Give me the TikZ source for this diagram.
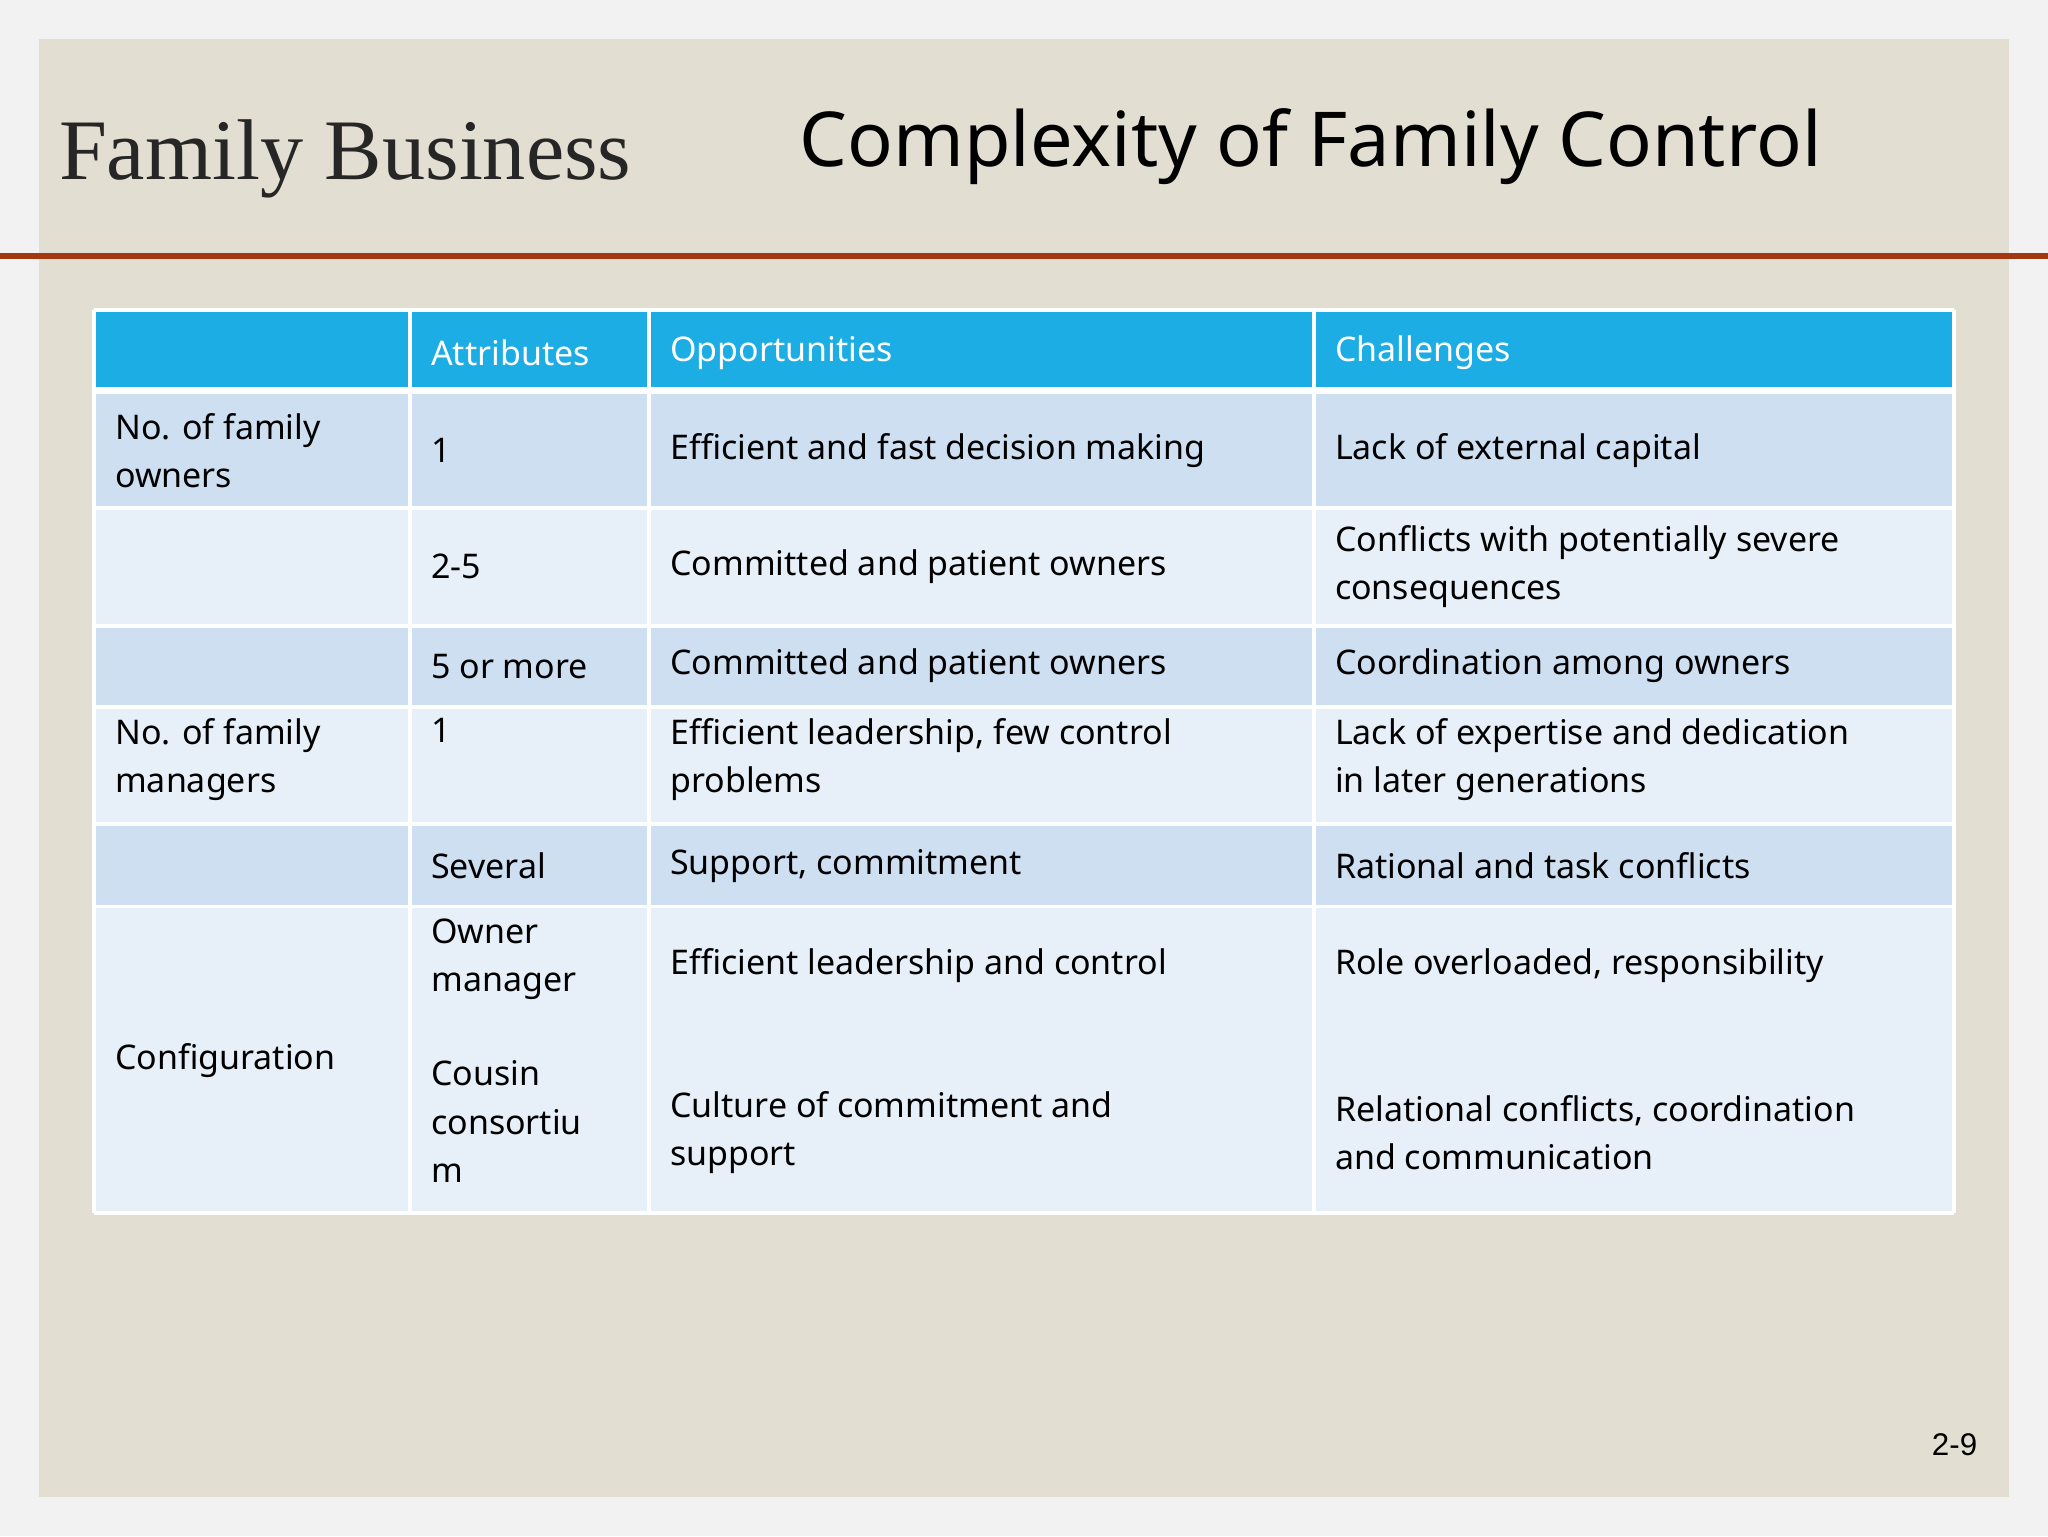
\documentclass[tikz,border=0pt]{standalone}
\usepackage{fontspec}
\setmainfont{Noto Sans}
\newfontfamily\titleserif{Liberation Serif}
\newfontfamily\arialf{Liberation Sans}
\definecolor{bgp}{HTML}{F2F2F2}
\definecolor{slide}{HTML}{E2DFD2}
\definecolor{rule}{HTML}{A3370F}
\definecolor{hdr}{HTML}{1CADE4}
\definecolor{rowd}{HTML}{CDDFF1}
\definecolor{rowl}{HTML}{E7EFF8}
\begin{document}
\begin{tikzpicture}[x=1pt,y=-1pt,
  cell/.style={anchor=west,align=left,font=\fontsize{26}{37}\selectfont,inner sep=0pt},
  hcell/.style={cell,text=white}]
\fill[bgp] (0,0) rectangle (1568,1176);
\useasboundingbox (0,0) rectangle (1568,1176);
\fill[slide] (30,30) rectangle (1538,1146);
\draw[rule,line width=5pt] (0,196) -- (1568,196);
\node[anchor=west,inner sep=0pt,font=\titleserif\fontsize{66}{70}\selectfont,text=black!85] (t1) at (45,122) {Family Business};
\node[anchor=west,inner sep=0pt,font=\fontsize{58}{62}\selectfont] (t2) at (612,112) {Complexity of Family Control};
% rows
\fill[hdr] (72,237) rectangle (1496,299);
\fill[rowd] (72,299) rectangle (1496,389);
\fill[rowl] (72,389) rectangle (1496,479);
\fill[rowd] (72,479) rectangle (1496,541);
\fill[rowl] (72,541) rectangle (1496,631);
\fill[rowd] (72,631) rectangle (1496,694);
\fill[rowl] (72,694) rectangle (1496,929);
\foreach \y in {237,299,389,479,541,631,694,929} \draw[white,line width=3pt] (72,\y) -- (1496,\y);
\foreach \x in {72,314,497,1006,1496} \draw[white,line width=3pt] (\x,237) -- (\x,929);
\draw[white,line width=5pt] (72,299) -- (1496,299);
% header
\node[hcell] (h1) at (330,270) {Attributes};
\node[hcell] (h2) at (513,270) {Opportunities};
\node[hcell] (h3) at (1022,270) {Challenges};
% row 1
\node[cell] (a1) at (88,345) {No. of family\\owners};
\node[cell] (b1) at (330,345) {1};
\node[cell] (c1) at (513,345) {Efficient and fast decision making};
\node[cell] (d1) at (1022,345) {Lack of external capital};
% row 2
\node[cell] (b2) at (330,434) {2-5};
\node[cell] (c2) at (513,434) {Committed and patient owners};
\node[cell] (d2) at (1022,434) {Conflicts with potentially severe\\consequences};
% row 3
\node[cell] (b3) at (330,510) {5 or more};
\node[cell] (c3) at (513,510) {Committed and patient owners};
\node[cell] (d3) at (1022,510) {Coordination among owners};
% row 4
\node[cell,anchor=north west] (a4) at (88,550) {No. of family\\managers};
\node[cell,anchor=north west] (b4) at (330,550) {1};
\node[cell,anchor=north west] (c4) at (513,550) {Efficient leadership, few control\\problems};
\node[cell,anchor=north west] (d4) at (1022,550) {Lack of expertise and dedication\\in later generations};
% row 5
\node[cell] (b5) at (330,663) {Several};
\node[cell] (c5) at (513,663) {Support, commitment};
\node[cell] (d5) at (1022,663) {Rational and task conflicts};
% row 6
\node[cell] (a6) at (88,812) {Configuration};
\node[cell,anchor=north west] (b6) at (330,703) {Owner\\manager};
\node[cell] (c6) at (513,739) {Efficient leadership and control};
\node[cell] (d6) at (1022,739) {Role overloaded, responsibility};
\node[cell,anchor=north west] (b7) at (330,812) {Cousin\\consortiu\\m};
\node[cell] (c7) at (513,867) {Culture of commitment and\\support};
\node[cell] (d7) at (1022,867) {Relational conflicts, coordination\\and communication};
\node[anchor=east,inner sep=0pt,font=\arialf\fontsize{24}{26}\selectfont] (pg) at (1514,1106) {2-9};
\end{tikzpicture}
\end{document}
